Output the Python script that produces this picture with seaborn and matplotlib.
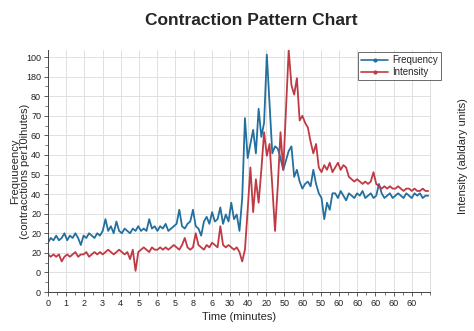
import matplotlib
matplotlib.use("Agg")
import matplotlib.pyplot as plt
from matplotlib.lines import Line2D
from matplotlib.ticker import AutoMinorLocator
import numpy as np
import pandas as pd
import seaborn as sns

# values, in y-axis units (0 at bottom, 100 at the top label)
frequency = [
    21, 23, 22, 24, 22, 23, 25, 22, 24, 23, 25, 23, 20, 24, 23, 25, 24, 23, 25, 24, 26,
    31, 26, 28, 25, 30, 26, 25, 27, 26, 25, 27, 26, 28, 26, 27, 26, 31, 27, 28, 26,
    28, 27, 29, 26, 27, 28, 29, 35, 28, 27, 29, 30, 35, 28, 27, 24, 30, 32, 29, 34,
    30, 31, 36, 29, 33, 30, 38, 31, 33, 26, 40,
    74, 57, 63, 69, 59, 78, 66, 72, 101,
    80, 59, 62, 61, 57, 52, 56, 60, 62, 49, 52, 47, 44, 46, 47, 45, 52, 46, 42, 40,
    31, 38, 35, 42,
    42, 40, 43, 41, 39, 42, 41, 40, 42, 41, 43, 40, 41, 42, 40, 41, 46, 42, 40, 41,
    42, 40, 41, 42, 41, 40, 42, 41, 40, 42, 41, 42, 40, 41, 41,
]
intensity = [
    16, 15, 16, 15, 16, 13, 15, 16, 15, 16, 17, 15, 16, 16, 17, 15, 16, 17, 16, 17,
    16, 17, 18, 17, 16, 17, 18, 17, 16, 17, 14, 18, 9, 17, 18, 19, 18, 17, 19, 18, 18,
    19, 18, 19, 18, 19, 20, 19, 18, 20, 23, 19, 18, 19, 25, 20, 19, 18, 20, 19, 21,
    20, 19, 28, 20, 19, 20, 19, 18, 19, 17, 13,
    18, 35, 53, 34, 48, 38, 52, 68, 58, 63, 45, 26, 45, 68, 52, 78, 103, 88, 84, 91,
    73, 75, 72, 70, 64, 59, 63, 53,
    51, 54, 52, 55, 51, 53, 55, 52, 54, 53, 49, 48, 47, 48, 47, 46, 47, 46, 47, 51,
    46, 45, 44, 45, 44, 45, 44, 44, 45, 44, 43, 44, 44, 43, 44, 43, 43, 44, 43, 43,
]
x_tick_labels = ["0", "1", "2", "3", "4", "5", "6", "5", "8", "6", "30", "40",
                 "20", "50", "60", "50", "60", "60", "60", "60", "60"]
y_tick_labels = ["0", "0", "20", "20", "20", "40", "50", "40", "60", "70",
                 "80", "180", "100"]

BLUE = "#23709f"
RED = "#bf3a44"

sns.set_theme(style="whitegrid")
plt.rcParams["font.family"] = ["Liberation Sans", "DejaVu Sans"]

time = np.linspace(0, 20.9, len(frequency))
df = pd.DataFrame({"time": time, "Frequency": frequency, "Intensity": intensity})

fig = plt.figure(figsize=(4.74, 3.31), dpi=100)
ax = fig.add_axes([0.1013, 0.1178, 0.8059, 0.7312])

sns.lineplot(data=df, x="time", y="Frequency", ax=ax, color=BLUE, linewidth=1.3)
sns.lineplot(data=df, x="time", y="Intensity", ax=ax, color=RED, linewidth=1.3)

ax.set_xlim(0, 21.0)
ax.set_ylim(0, 103)
ax.set_xticks(np.arange(len(x_tick_labels)))
ax.set_xticklabels(x_tick_labels)
ax.set_yticks(np.linspace(0, 100, len(y_tick_labels)))
ax.set_yticklabels(y_tick_labels)
ax.xaxis.set_minor_locator(AutoMinorLocator(2))
ax.yaxis.set_minor_locator(AutoMinorLocator(2))
ax.tick_params(axis="both", which="major", labelsize=6.5, length=3, width=0.6,
               color="#444444", pad=2, bottom=True, left=True, labelcolor="#222222")
ax.tick_params(axis="both", which="minor", length=2, width=0.5, color="#444444",
               bottom=True, left=True)
ax.grid(True, which="major", color="#e0e0e0", linewidth=0.7)

for side in ["left", "bottom"]:
    ax.spines[side].set_color("#444444")
    ax.spines[side].set_linewidth(0.7)
ax.spines["top"].set_visible(False)
ax.spines["right"].set_color("#dddddd")
ax.spines["right"].set_linewidth(0.7)

ax.set_xlabel("Time (minutes)", fontsize=8, labelpad=3)
ax.set_ylabel("Frequueency\n(contracctions per10ihutes)", fontsize=8,
              linespacing=1.05, va="center")
ax.yaxis.set_label_coords(-0.073, 0.5)

fig.text(0.977, 0.53, "Intensity (abldary units)", rotation=90, ha="center",
         va="center", fontsize=8)
fig.suptitle("Contraction Pattern Chart", x=0.53, y=0.962, fontsize=12.5,
             fontweight="bold")

handles = [
    Line2D([], [], color=BLUE, linewidth=1.2, marker="o", markersize=2),
    Line2D([], [], color=RED, linewidth=1.2, marker="o", markersize=2),
]
leg = fig.legend(handles, ["Frequency", "Intensity"], loc="upper right",
                 bbox_to_anchor=(0.94, 0.857), fontsize=7, frameon=True,
                 fancybox=False, borderpad=0.3, handlelength=2.8,
                 handletextpad=0.4, labelspacing=0.2)
leg.get_frame().set_edgecolor("#444444")
leg.get_frame().set_linewidth(0.7)

fig.savefig("out.png", dpi=100)
